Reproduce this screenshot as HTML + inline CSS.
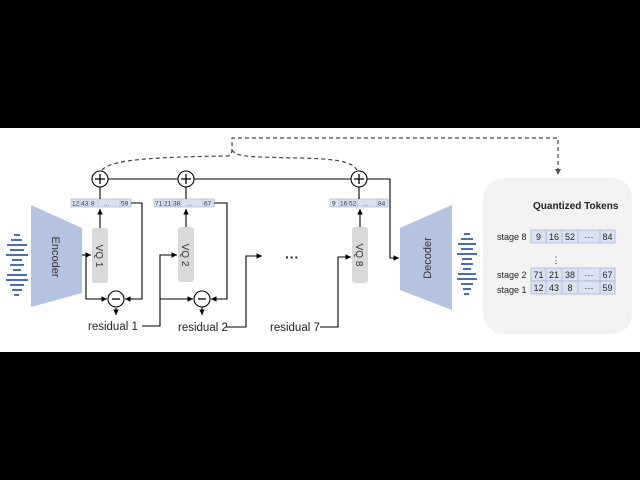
<!DOCTYPE html>
<html><head><style>body{margin:0;background:#000}svg{display:block}text{font-family:"Liberation Sans",sans-serif}</style></head>
<body>
<svg width="640" height="480" viewBox="0 0 640 480" xmlns="http://www.w3.org/2000/svg">
<defs><marker id="a" markerWidth="6" markerHeight="6" refX="5" refY="3" orient="auto"><path d="M0,0.5 L5,3 L0,5.5z" fill="#000"/></marker>
<marker id="g" markerWidth="6" markerHeight="6" refX="5" refY="3" orient="auto"><path d="M0,0.5 L5,3 L0,5.5z" fill="#555"/></marker></defs>
<rect x="0" y="128" width="640" height="224" fill="#fff"/>
<g fill="none" stroke="#444" stroke-width="1.2" stroke-dasharray="4,3">
<path d="M102,170 C110,160 150,157 228,156 C233,155 232,150 232,138 L558,138 L558,175" marker-end="url(#g)"/>
<path d="M232,150 C236,157 250,157 300,158 C340,159 352,162 357,170"/>
</g>
<g fill="#4a6fae">
<rect x="14" y="234" width="6" height="2"/><rect x="11" y="239" width="11" height="2"/><rect x="7" y="244" width="20" height="2"/><rect x="10" y="249" width="14" height="2"/><rect x="6" y="254" width="22" height="2"/><rect x="12" y="259" width="10" height="2"/><rect x="10" y="264" width="14" height="2"/><rect x="13" y="269" width="8" height="2"/><rect x="7" y="274" width="20" height="2"/><rect x="6" y="279" width="22" height="2"/><rect x="10" y="284" width="14" height="2"/><rect x="12" y="289" width="10" height="2"/><rect x="14" y="294" width="5" height="2"/>
<rect x="464" y="233" width="6" height="2"/><rect x="461" y="238" width="12" height="2"/><rect x="458" y="243" width="18" height="2"/><rect x="461" y="248" width="12" height="2"/><rect x="457" y="253" width="20" height="2"/><rect x="462" y="258" width="10" height="2"/><rect x="461" y="263" width="12" height="2"/><rect x="463" y="268" width="8" height="2"/><rect x="458" y="273" width="18" height="2"/><rect x="457" y="278" width="20" height="2"/><rect x="461" y="283" width="12" height="2"/><rect x="463" y="288" width="8" height="2"/><rect x="464" y="293" width="5" height="2"/>
</g>
<polygon points="31,205 82,228 82,293 31,307" fill="#b4c3e0"/>
<text transform="translate(52,257) rotate(90)" font-size="11" text-anchor="middle" fill="#333">Encoder</text>
<polygon points="400,228 452,205 452,310 400,290" fill="#b4c3e0"/>
<text transform="translate(431,258) rotate(-90)" font-size="11" text-anchor="middle" fill="#333">Decoder</text>
<g fill="#d9d9d9"><rect x="92" y="228" width="16" height="55" rx="3"/><rect x="178" y="227" width="16" height="55" rx="3"/><rect x="352" y="227" width="16" height="56" rx="3"/></g>
<g font-size="10" fill="#333" text-anchor="middle">
<text transform="translate(96,256) rotate(90)">VQ 1</text>
<text transform="translate(182,255) rotate(90)">VQ 2</text>
<text transform="translate(356,255) rotate(90)">VQ 8</text>
</g>
<g fill="#dbe3f3" stroke="#9fb0d6" stroke-width="0.6">
<rect x="71" y="199" width="60" height="8"/><rect x="154" y="199" width="60" height="8"/><rect x="330" y="199" width="58" height="8"/>
</g>
<g stroke="#9fb0d6" stroke-width="0.6">
<line x1="80" y1="199" x2="80" y2="207"/><line x1="89" y1="199" x2="89" y2="207"/><line x1="98" y1="199" x2="98" y2="207"/><line x1="120" y1="199" x2="120" y2="207"/>
<line x1="163" y1="199" x2="163" y2="207"/><line x1="172" y1="199" x2="172" y2="207"/><line x1="181" y1="199" x2="181" y2="207"/><line x1="203" y1="199" x2="203" y2="207"/>
<line x1="339" y1="199" x2="339" y2="207"/><line x1="348" y1="199" x2="348" y2="207"/><line x1="357" y1="199" x2="357" y2="207"/><line x1="377" y1="199" x2="377" y2="207"/>
</g>
<g font-size="6.5" fill="#333">
<text x="72" y="205.5">12</text><text x="81" y="205.5">43</text><text x="91" y="205.5">8</text><text x="104" y="205.5">...</text><text x="121" y="205.5">59</text>
<text x="155" y="205.5">71</text><text x="164" y="205.5">21</text><text x="173" y="205.5">38</text><text x="187" y="205.5">...</text><text x="204" y="205.5">67</text>
<text x="332" y="205.5">9</text><text x="340" y="205.5">16</text><text x="349" y="205.5">52</text><text x="363" y="205.5">...</text><text x="378" y="205.5">84</text>
</g>
<g fill="none" stroke="#000" stroke-width="1.1">
<line x1="108" y1="179" x2="351" y2="179"/><path d="M367,179 H390 V258 H399" marker-end="url(#a)"/>
<line x1="100" y1="187" x2="100" y2="199"/><line x1="186" y1="187" x2="186" y2="199"/><line x1="359" y1="187" x2="359" y2="199"/>
<line x1="100" y1="228" x2="100" y2="209" marker-end="url(#a)"/><line x1="186" y1="227" x2="186" y2="209" marker-end="url(#a)"/><line x1="360" y1="227" x2="360" y2="209" marker-end="url(#a)"/>
<path d="M82,255 H91" marker-end="url(#a)"/><path d="M86,255 V299 H107" marker-end="url(#a)"/>
<path d="M131,203 H142 V299 H125" marker-end="url(#a)"/>
<line x1="116" y1="308" x2="116" y2="315" marker-end="url(#a)"/>
<path d="M142,326 H160 V255 H177" marker-end="url(#a)"/><path d="M160,299 H193" marker-end="url(#a)"/>
<path d="M214,203 H227 V299 H211" marker-end="url(#a)"/>
<line x1="202" y1="307" x2="202" y2="315" marker-end="url(#a)"/>
<path d="M226,327 H246 V256 H262" marker-end="url(#a)"/>
<path d="M320,327 H338 V257 H351" marker-end="url(#a)"/>
</g>
<g fill="#fff" stroke="#000" stroke-width="1.1">
<circle cx="100" cy="179" r="8"/><circle cx="186" cy="179" r="8"/><circle cx="359" cy="179" r="8"/>
<circle cx="116" cy="299" r="8"/><circle cx="202" cy="299" r="8"/>
</g>
<g stroke="#000" stroke-width="1.3">
<path d="M95,179 H105 M100,174 V184"/><path d="M181,179 H191 M186,174 V184"/><path d="M354,179 H364 M359,174 V184"/>
<path d="M112,299 H120"/><path d="M198,299 H206"/>
</g>
<g font-size="11.5" fill="#222">
<text x="88" y="330">residual 1</text><text x="178" y="331">residual 2</text><text x="270" y="331">residual 7</text>
<text x="285" y="262" font-size="14" font-weight="bold">···</text>
</g>
<rect x="483" y="178" width="149" height="156" rx="20" fill="#f2f2f2"/>
<text x="533" y="209" font-size="10" font-weight="bold" fill="#222">Quantized Tokens</text>
<g font-size="9" fill="#222"><text x="497" y="240">stage 8</text><text x="497" y="278">stage 2</text><text x="497" y="293">stage 1</text>
<text x="556" y="263" text-anchor="middle">⋮</text></g>
<g fill="#dbe3f3" stroke="#9fb0d6" stroke-width="0.7">
<rect x="531" y="230" width="84" height="13"/><rect x="531" y="268" width="84" height="13"/><rect x="531" y="281" width="84" height="13"/>
</g>
<g stroke="#9fb0d6" stroke-width="0.7">
<path d="M546,230V243M562,230V243M578,230V243M600,230V243M546,268V294M562,268V294M578,268V294M600,268V294"/>
</g>
<g font-size="9" fill="#222" text-anchor="middle">
<text x="538.5" y="240">9</text><text x="554" y="240">16</text><text x="570" y="240">52</text><text x="589" y="240">···</text><text x="607.5" y="240">84</text>
<text x="538.5" y="278">71</text><text x="554" y="278">21</text><text x="570" y="278">38</text><text x="589" y="278">···</text><text x="607.5" y="278">67</text>
<text x="538.5" y="291">12</text><text x="554" y="291">43</text><text x="570" y="291">8</text><text x="589" y="291">···</text><text x="607.5" y="291">59</text>
</g>
</svg>
</body></html>
